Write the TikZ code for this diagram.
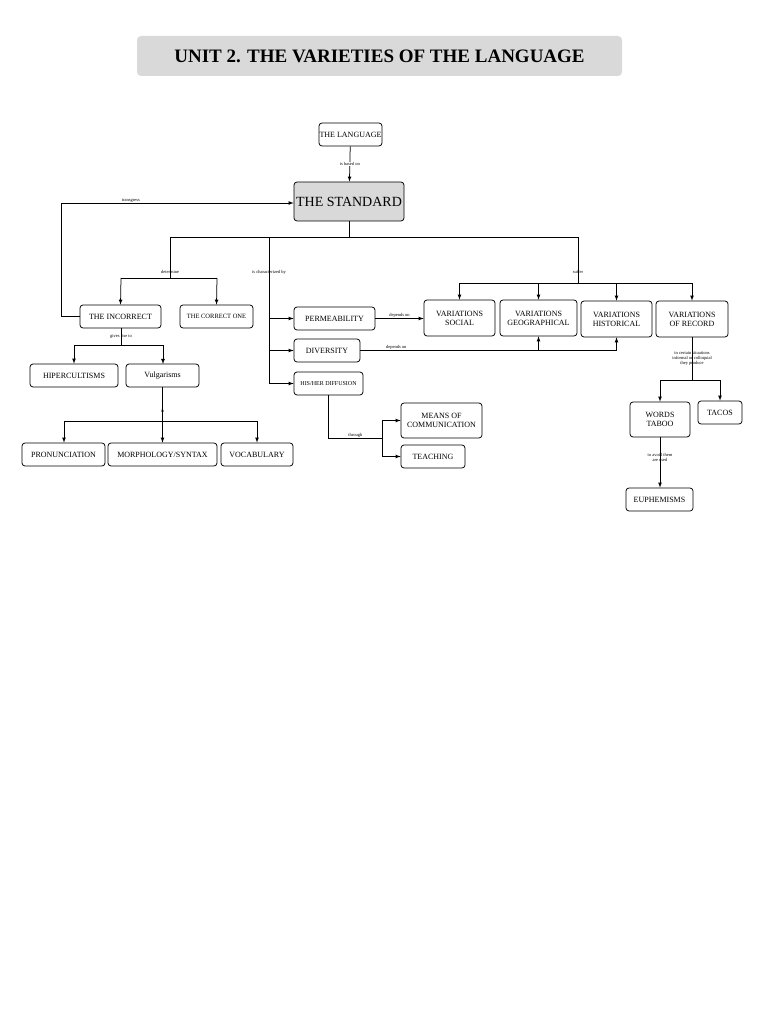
\documentclass[tikz,border=0pt]{standalone}
\usepackage{fontspec}
\setmainfont{Liberation Serif}
\usetikzlibrary{positioning}

\tikzset{every picture/.style={line width=0.75pt}}

\begin{document}
\begin{tikzpicture}[x=1pt,y=1pt,yscale=-1,xscale=1,
  box/.style={draw,rounded corners=3pt,inner sep=0pt,align=center,font=\fontsize{8}{9}\selectfont},
  lbl/.style={inner sep=0.5pt,font=\fontsize{4.5}{5}\selectfont,align=center},
  arr/.style={-latex}]
\useasboundingbox (0,0) rectangle (768,1024);

%Title
\node [fill=black!15,rounded corners=4pt,minimum width=485,minimum height=40,font=\bfseries\fontsize{19}{21}\selectfont] (title) at (379.5,56) {UNIT 2. THE VARIETIES OF THE LANGUAGE};

%Top
\node [box,minimum width=63,minimum height=23] (lang) at (350.5,134.5) {THE LANGUAGE};
\node [box,fill=black!15,minimum width=110,minimum height=39,font=\fontsize{14}{16}\selectfont] (std) at (349,201.5) {THE STANDARD};

%Left branch
\node [box,minimum width=81,minimum height=23] (incor) at (120.5,316.5) {THE INCORRECT};
\node [box,minimum width=73,minimum height=23,font=\fontsize{6.5}{7}\selectfont] (cor) at (216.5,316.5) {THE CORRECT ONE};
\node [box,minimum width=88,minimum height=23] (hiper) at (74,375.5) {HIPERCULTISMS};
\node [box,minimum width=73,minimum height=23] (vulg) at (162.5,375.5) {Vulgarisms};
\node [box,minimum width=83,minimum height=23] (pron) at (63.5,454.5) {PRONUNCIATION};
\node [box,minimum width=109,minimum height=23] (morph) at (162.5,454.5) {MORPHOLOGY/SYNTAX};
\node [box,minimum width=72,minimum height=23] (voc) at (257,454.5) {VOCABULARY};

%Middle branch
\node [box,minimum width=81,minimum height=23] (perm) at (334.5,318.5) {PERMEABILITY};
\node [box,minimum width=66,minimum height=23] (div) at (327,350.5) {DIVERSITY};
\node [box,minimum width=69,minimum height=23,font=\fontsize{6}{7}\selectfont] (diff) at (328.5,383.5) {HIS/HER DIFFUSION};
\node [box,minimum width=81,minimum height=35] (means) at (441.5,420.5) {MEANS OF\\COMMUNICATION};
\node [box,minimum width=64,minimum height=23] (teach) at (433,456.5) {TEACHING};

%Right branch
\node [box,minimum width=71,minimum height=36] (vsoc) at (459.5,318) {VARIATIONS\\SOCIAL};
\node [box,minimum width=77,minimum height=36] (vgeo) at (538.5,318) {VARIATIONS\\GEOGRAPHICAL};
\node [box,minimum width=71,minimum height=36] (vhis) at (616.5,319) {VARIATIONS\\HISTORICAL};
\node [box,minimum width=72,minimum height=36] (vrec) at (692,319) {VARIATIONS\\OF RECORD};
\node [box,minimum width=60,minimum height=35] (taboo) at (660,419.5) {WORDS\\TABOO};
\node [box,minimum width=44,minimum height=23] (tacos) at (720,412.5) {TACOS};
\node [box,minimum width=67,minimum height=23] (euph) at (659.5,499.5) {EUPHEMISMS};

%Connectors
\draw [arr] (lang) -- (std) node [lbl,midway,fill=white] {is based on};
\draw (std.south) -- (349,237);
\draw (170,237) -- (578,237);
\draw (170,237) -- (170,278) node [lbl,pos=0.85] {determine};
\draw (121,278) -- (217,278);
\draw [arr] (121,278) -- (incor.north);
\draw [arr] (217,278) -- (cor.north);
\draw [arr] (incor.west) -- (61,316.5) -- (61,203) -- (std.west |- 0,203) node [lbl,pos=0.3,above] {transgress};
\draw (121,328) -- (121,345) node [lbl,pos=0.5] {gives rise to};
\draw (74,345) -- (163,345);
\draw [arr] (74,345) -- (hiper.north -| 74,0);
\draw [arr] (163,345) -- (163,364);
\draw (vulg.south) -- (162.5,421) node [lbl,pos=0.7] {in};
\draw (64,421) -- (257,421);
\draw [arr] (64,421) -- (pron.north -| 64,0);
\draw [arr] (162.5,421) -- (morph.north);
\draw [arr] (257,421) -- (voc.north);

\draw (269,237) -- (269,383.5) node [lbl,pos=0.24] {is characterized by};
\draw [arr] (269,318.5) -- (perm.west);
\draw [arr] (269,350.5) -- (div.west);
\draw [arr] (269,383.5) -- (diff.west);
\draw [arr] (perm.east) -- (vsoc.west |- perm.east) node [lbl,midway,above] {depends on};
\draw (div.east) -- (616.5,350.5) node [lbl,pos=0.14,above] {depends on};
\draw [arr] (538.5,350.5) -- (vgeo.south);
\draw [arr] (616.5,350.5) -- (vhis.south);
\draw (diff.south) -- (328.5,438) -- (382,438) node [lbl,midway,above] {through};
\draw [arr] (382,438) |- (means.west);
\draw [arr] (382,438) |- (teach.west);

\draw (578,237) -- (578,283) node [lbl,pos=0.75] {suffer};
\draw (459.5,283) -- (692,283);
\draw [arr] (459.5,283) -- (vsoc.north);
\draw [arr] (538.5,283) -- (vgeo.north);
\draw [arr] (616.5,283) -- (vhis.north);
\draw [arr] (692,283) -- (vrec.north);
\draw (vrec.south) -- (692,380) node [lbl,midway] {in certain situations\\informal or colloquial\\they produce};
\draw (660,380) -- (720,380);
\draw [arr] (660,380) -- (taboo.north);
\draw [arr] (720,380) -- (tacos.north);
\draw [arr] (taboo.south) -- (euph.north -| taboo.south) node [lbl,pos=0.4] {to avoid them\\are used};
\end{tikzpicture}
\end{document}
